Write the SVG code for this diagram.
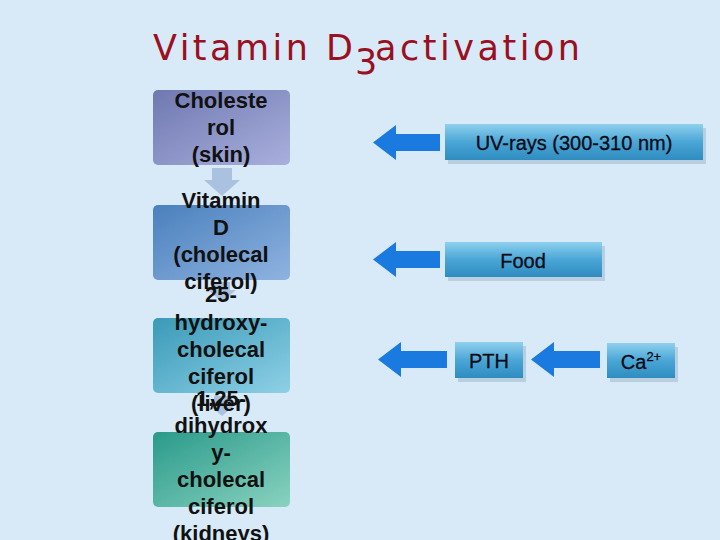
<svg xmlns="http://www.w3.org/2000/svg" width="720" height="540" viewBox="0 0 720 540">
<style>
.t{font-family:"Liberation Sans",Arial,sans-serif;font-weight:bold;font-size:22px;fill:#111;text-anchor:middle}
.s{font-family:"Liberation Sans",Arial,sans-serif;font-size:20px;fill:#0a0a14;stroke:#0a0a14;stroke-width:0.3}
.h{font-family:"DejaVu Sans",sans-serif;font-size:35px;fill:#9a1020}
.arr{fill:#1a7ae0}
.dn{fill:#9fb8d8;opacity:0.8}
</style>
<defs>
<linearGradient id="g1" x1="0" y1="0" x2="1" y2="1"><stop offset="0" stop-color="#6f78b0"/><stop offset="1" stop-color="#a9b0de"/></linearGradient>
<linearGradient id="g2" x1="0" y1="0" x2="1" y2="1"><stop offset="0" stop-color="#4a80bd"/><stop offset="1" stop-color="#8fb3e0"/></linearGradient>
<linearGradient id="g3" x1="0" y1="0" x2="1" y2="1"><stop offset="0" stop-color="#3a9ab8"/><stop offset="1" stop-color="#8ed0e6"/></linearGradient>
<linearGradient id="g4" x1="0" y1="0" x2="1" y2="1"><stop offset="0" stop-color="#2a9a8a"/><stop offset="1" stop-color="#8ad2c0"/></linearGradient>
<linearGradient id="gb" x1="0" y1="0" x2="0" y2="1"><stop offset="0" stop-color="#8fd0ee"/><stop offset="0.5" stop-color="#4aa6d6"/><stop offset="1" stop-color="#2f8cc0"/></linearGradient>
</defs>
<rect width="720" height="540" fill="#d8eaf8"/>
<text class="h" x="153" y="60" textLength="200">Vitamin D</text>
<text class="h" x="355" y="74" font-size="22">3</text>
<text class="h" x="375" y="60" textLength="205">activation</text>
<g id="connectors">
<path class="dn" d="M212 168h20v12h8l-18 16-18-16h8z"/>
<path class="dn" d="M214 282h16v8h6l-14 12-14-12h6z"/>
<path class="dn" d="M214 396h16v8h6l-14 12-14-12h6z"/>
<path class="arr" d="M440 134h-44v-9l-23 17.5 23 17.5v-9h44z"/>
<path class="arr" d="M440 251h-44v-9l-23 17.5 23 17.5v-9h44z"/>
<path class="arr" d="M447 351h-46v-9l-23 17.5 23 17.5v-9h46z"/>
<path class="arr" d="M600 351h-46v-9l-23 17.5 23 17.5v-9h46z"/>
</g>
<g id="n1"><rect x="153" y="90" width="137" height="75" rx="5" fill="url(#g1)"/>
<text class="t"><tspan x="221" y="108">Choleste</tspan><tspan x="221" y="135">rol</tspan><tspan x="221" y="162">(skin)</tspan></text></g>
<g id="n2"><rect x="153" y="205" width="137" height="75" rx="5" fill="url(#g2)"/>
<text class="t"><tspan x="221" y="208">Vitamin</tspan><tspan x="221" y="235">D</tspan><tspan x="221" y="262">(cholecal</tspan><tspan x="221" y="289">ciferol)</tspan></text></g>
<g id="n3"><rect x="153" y="318" width="137" height="75" rx="5" fill="url(#g3)"/>
<text class="t"><tspan x="221" y="302">25-</tspan><tspan x="221" y="330">hydroxy-</tspan><tspan x="221" y="357">cholecal</tspan><tspan x="221" y="384">ciferol</tspan><tspan x="221" y="411">(liver)</tspan></text></g>
<g id="n4"><rect x="153" y="432" width="137" height="75" rx="5" fill="url(#g4)"/>
<text class="t"><tspan x="221" y="406">1,25-</tspan><tspan x="221" y="433">dihydrox</tspan><tspan x="221" y="460">y-</tspan><tspan x="221" y="487">cholecal</tspan><tspan x="221" y="514">ciferol</tspan><tspan x="221" y="541">(kidneys)</tspan></text></g>
<g id="uv"><rect x="448" y="128" width="258" height="36" fill="#9ab4c8" opacity="0.5"/><rect x="445" y="124" width="258" height="36" fill="url(#gb)"/><text class="s" x="574" y="150" text-anchor="middle">UV-rays (300-310 nm)</text></g>
<g id="food"><rect x="448" y="246" width="157" height="35" fill="#9ab4c8" opacity="0.5"/><rect x="445" y="242" width="157" height="35" fill="url(#gb)"/><text class="s" x="523" y="268" text-anchor="middle">Food</text></g>
<g id="pth"><rect x="458" y="346" width="68" height="36" fill="#9ab4c8" opacity="0.5"/><rect x="455" y="342" width="68" height="36" fill="url(#gb)"/><text class="s" x="489" y="368" text-anchor="middle">PTH</text></g>
<g id="ca"><rect x="610" y="347" width="68" height="35" fill="#9ab4c8" opacity="0.5"/><rect x="607" y="343" width="68" height="35" fill="url(#gb)"/><text class="s" x="641" y="369" text-anchor="middle">Ca<tspan font-size="13" dy="-8">2+</tspan></text></g>
</svg>
